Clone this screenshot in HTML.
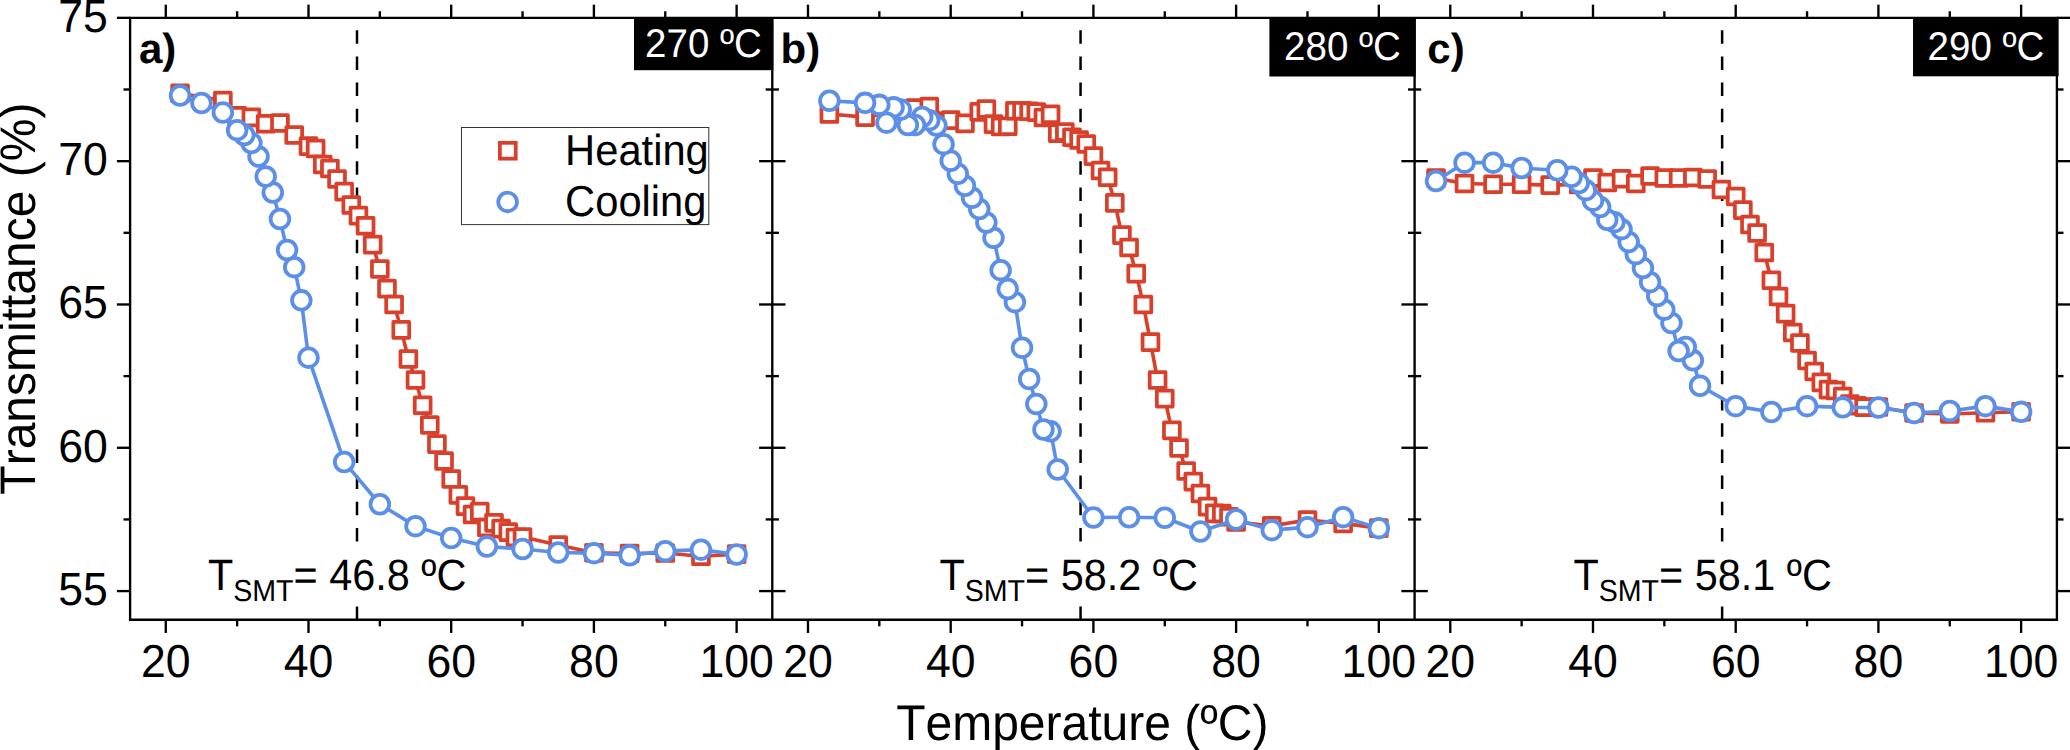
<!DOCTYPE html>
<html lang="en"><head><meta charset="utf-8"><title>Transmittance vs temperature</title>
<style>html,body{margin:0;padding:0;background:#fff;overflow:hidden}svg{display:block}</style></head>
<body>
<svg width="2070" height="750" viewBox="0 0 2070 750" font-family="'Liberation Sans', sans-serif" fill="#000" style="font-kerning:none;text-rendering:geometricPrecision">
<rect x="0" y="0" width="2070" height="750" fill="#fff"/>
<g class="panel0">
<line x1="357.01" y1="30.2" x2="357.01" y2="619.75" stroke="#000" stroke-width="2.5" stroke-dasharray="13.5 12.7"/>
<polyline points="180.05,93.35 222.86,100.55 237.13,115.75 251.4,117.35 265.68,123.75 279.95,122.95 294.22,134.95 308.49,146.15 315.62,148.55 322.76,164.55 329.9,168.55 337.03,178.95 344.17,191.65 351.3,204.95 358.44,215.65 365.57,225.75 372.71,244.65 379.84,268.95 386.98,288.65 394.12,304.55 401.25,329.85 408.39,358.95 415.52,379.95 422.66,405.25 429.79,424.95 436.93,444.15 444.06,460.95 451.2,478.95 458.34,494.85 465.47,506.15 472.61,514.55 479.74,511.65 486.88,527.45 494.01,522.85 501.15,528.65 508.28,532.15 515.42,537.45 522.56,537.05 558.23,544.95 593.91,552.75 629.59,553.55 665.27,553.05 700.94,556.25 736.62,554.15" fill="none" stroke="#d9402b" stroke-width="3.6" stroke-linejoin="round"/>
<g fill="#fff" stroke="#d9402b" stroke-width="3.75" stroke-linejoin="round">
<rect x="172.12" y="85.43" width="15.85" height="15.85"/>
<rect x="214.94" y="92.63" width="15.85" height="15.85"/>
<rect x="229.21" y="107.83" width="15.85" height="15.85"/>
<rect x="243.48" y="109.43" width="15.85" height="15.85"/>
<rect x="257.75" y="115.83" width="15.85" height="15.85"/>
<rect x="272.02" y="115.03" width="15.85" height="15.85"/>
<rect x="286.29" y="127.03" width="15.85" height="15.85"/>
<rect x="300.56" y="138.22" width="15.85" height="15.85"/>
<rect x="307.7" y="140.62" width="15.85" height="15.85"/>
<rect x="314.83" y="156.62" width="15.85" height="15.85"/>
<rect x="321.97" y="160.62" width="15.85" height="15.85"/>
<rect x="329.11" y="171.03" width="15.85" height="15.85"/>
<rect x="336.24" y="183.72" width="15.85" height="15.85"/>
<rect x="343.38" y="197.03" width="15.85" height="15.85"/>
<rect x="350.51" y="207.72" width="15.85" height="15.85"/>
<rect x="357.65" y="217.82" width="15.85" height="15.85"/>
<rect x="364.78" y="236.72" width="15.85" height="15.85"/>
<rect x="371.92" y="261.02" width="15.85" height="15.85"/>
<rect x="379.06" y="280.72" width="15.85" height="15.85"/>
<rect x="386.19" y="296.62" width="15.85" height="15.85"/>
<rect x="393.33" y="321.92" width="15.85" height="15.85"/>
<rect x="400.46" y="351.02" width="15.85" height="15.85"/>
<rect x="407.6" y="372.02" width="15.85" height="15.85"/>
<rect x="414.73" y="397.32" width="15.85" height="15.85"/>
<rect x="421.87" y="417.02" width="15.85" height="15.85"/>
<rect x="429" y="436.22" width="15.85" height="15.85"/>
<rect x="436.14" y="453.02" width="15.85" height="15.85"/>
<rect x="443.28" y="471.02" width="15.85" height="15.85"/>
<rect x="450.41" y="486.92" width="15.85" height="15.85"/>
<rect x="457.55" y="498.22" width="15.85" height="15.85"/>
<rect x="464.68" y="506.62" width="15.85" height="15.85"/>
<rect x="471.82" y="503.72" width="15.85" height="15.85"/>
<rect x="478.95" y="519.52" width="15.85" height="15.85"/>
<rect x="486.09" y="514.93" width="15.85" height="15.85"/>
<rect x="493.22" y="520.73" width="15.85" height="15.85"/>
<rect x="500.36" y="524.23" width="15.85" height="15.85"/>
<rect x="507.5" y="529.52" width="15.85" height="15.85"/>
<rect x="514.63" y="529.12" width="15.85" height="15.85"/>
<rect x="550.31" y="537.02" width="15.85" height="15.85"/>
<rect x="585.99" y="544.83" width="15.85" height="15.85"/>
<rect x="621.66" y="545.62" width="15.85" height="15.85"/>
<rect x="657.34" y="545.12" width="15.85" height="15.85"/>
<rect x="693.02" y="548.33" width="15.85" height="15.85"/>
<rect x="728.7" y="546.23" width="15.85" height="15.85"/>
</g>
<polyline points="736.62,554.45 700.94,549.65 665.27,551.15 629.59,555.25 593.91,553.15 558.23,552.45 522.56,549.05 486.88,546.55 451.2,538.05 415.52,526.15 379.84,504.25 344.17,461.95 308.49,357.65 301.35,300.35 294.22,267.15 287.08,250.05 279.95,219.05 272.81,192.45 265.68,176.55 258.54,156.55 251.4,142.95 244.27,134.95 237.13,130.15 222.86,112.55 201.46,102.95 180.05,95.45" fill="none" stroke="#5b8fe8" stroke-width="3.6" stroke-linejoin="round"/>
<g fill="#fff" stroke="#5b8fe8" stroke-width="3.8">
<circle cx="736.62" cy="554.45" r="9.35"/>
<circle cx="700.94" cy="549.65" r="9.35"/>
<circle cx="665.27" cy="551.15" r="9.35"/>
<circle cx="629.59" cy="555.25" r="9.35"/>
<circle cx="593.91" cy="553.15" r="9.35"/>
<circle cx="558.23" cy="552.45" r="9.35"/>
<circle cx="522.56" cy="549.05" r="9.35"/>
<circle cx="486.88" cy="546.55" r="9.35"/>
<circle cx="451.2" cy="538.05" r="9.35"/>
<circle cx="415.52" cy="526.15" r="9.35"/>
<circle cx="379.84" cy="504.25" r="9.35"/>
<circle cx="344.17" cy="461.95" r="9.35"/>
<circle cx="308.49" cy="357.65" r="9.35"/>
<circle cx="301.35" cy="300.35" r="9.35"/>
<circle cx="294.22" cy="267.15" r="9.35"/>
<circle cx="287.08" cy="250.05" r="9.35"/>
<circle cx="279.95" cy="219.05" r="9.35"/>
<circle cx="272.81" cy="192.45" r="9.35"/>
<circle cx="265.68" cy="176.55" r="9.35"/>
<circle cx="258.54" cy="156.55" r="9.35"/>
<circle cx="251.4" cy="142.95" r="9.35"/>
<circle cx="244.27" cy="134.95" r="9.35"/>
<circle cx="237.13" cy="130.15" r="9.35"/>
<circle cx="222.86" cy="112.55" r="9.35"/>
<circle cx="201.46" cy="102.95" r="9.35"/>
<circle cx="180.05" cy="95.45" r="9.35"/>
</g>
</g>
<g class="panel1">
<line x1="1080.56" y1="30.2" x2="1080.56" y2="619.75" stroke="#000" stroke-width="2.5" stroke-dasharray="13.5 12.7"/>
<polyline points="829.38,114.05 865.06,117.15 915.01,108.05 929.28,106.45 950.69,120.15 964.96,123.35 979.23,111.85 986.37,108.95 993.5,124.15 1000.64,126.55 1007.77,126.25 1014.91,110.75 1022.04,110.75 1029.18,111.25 1036.32,112.15 1043.45,117.45 1050.59,114.25 1057.72,133.15 1064.86,132.05 1071.99,137.25 1079.13,140.05 1086.26,143.95 1093.4,156.15 1100.54,170.55 1107.67,177.25 1114.81,202.85 1121.94,235.15 1129.08,247.45 1136.21,273.65 1143.35,304.55 1150.48,342.15 1157.62,380.05 1164.76,398.65 1171.89,430.35 1179.03,447.95 1186.16,471.05 1193.3,481.65 1200.43,493.55 1207.57,506.65 1214.7,513.35 1221.84,513.55 1228.98,516.75 1236.11,522.05 1271.79,525.85 1307.47,520.05 1343.14,523.35 1378.82,528.15" fill="none" stroke="#d9402b" stroke-width="3.6" stroke-linejoin="round"/>
<g fill="#fff" stroke="#d9402b" stroke-width="3.75" stroke-linejoin="round">
<rect x="821.46" y="106.13" width="15.85" height="15.85"/>
<rect x="857.14" y="109.23" width="15.85" height="15.85"/>
<rect x="907.09" y="100.13" width="15.85" height="15.85"/>
<rect x="921.36" y="98.53" width="15.85" height="15.85"/>
<rect x="942.76" y="112.23" width="15.85" height="15.85"/>
<rect x="957.04" y="115.43" width="15.85" height="15.85"/>
<rect x="971.31" y="103.93" width="15.85" height="15.85"/>
<rect x="978.44" y="101.03" width="15.85" height="15.85"/>
<rect x="985.58" y="116.23" width="15.85" height="15.85"/>
<rect x="992.71" y="118.63" width="15.85" height="15.85"/>
<rect x="999.85" y="118.33" width="15.85" height="15.85"/>
<rect x="1006.98" y="102.83" width="15.85" height="15.85"/>
<rect x="1014.12" y="102.83" width="15.85" height="15.85"/>
<rect x="1021.26" y="103.33" width="15.85" height="15.85"/>
<rect x="1028.39" y="104.23" width="15.85" height="15.85"/>
<rect x="1035.53" y="109.53" width="15.85" height="15.85"/>
<rect x="1042.66" y="106.33" width="15.85" height="15.85"/>
<rect x="1049.8" y="125.23" width="15.85" height="15.85"/>
<rect x="1056.93" y="124.13" width="15.85" height="15.85"/>
<rect x="1064.07" y="129.32" width="15.85" height="15.85"/>
<rect x="1071.2" y="132.12" width="15.85" height="15.85"/>
<rect x="1078.34" y="136.03" width="15.85" height="15.85"/>
<rect x="1085.48" y="148.22" width="15.85" height="15.85"/>
<rect x="1092.61" y="162.62" width="15.85" height="15.85"/>
<rect x="1099.75" y="169.32" width="15.85" height="15.85"/>
<rect x="1106.88" y="194.92" width="15.85" height="15.85"/>
<rect x="1114.02" y="227.22" width="15.85" height="15.85"/>
<rect x="1121.15" y="239.53" width="15.85" height="15.85"/>
<rect x="1128.29" y="265.72" width="15.85" height="15.85"/>
<rect x="1135.42" y="296.62" width="15.85" height="15.85"/>
<rect x="1142.56" y="334.22" width="15.85" height="15.85"/>
<rect x="1149.69" y="372.12" width="15.85" height="15.85"/>
<rect x="1156.83" y="390.72" width="15.85" height="15.85"/>
<rect x="1163.97" y="422.42" width="15.85" height="15.85"/>
<rect x="1171.1" y="440.02" width="15.85" height="15.85"/>
<rect x="1178.24" y="463.12" width="15.85" height="15.85"/>
<rect x="1185.37" y="473.72" width="15.85" height="15.85"/>
<rect x="1192.51" y="485.62" width="15.85" height="15.85"/>
<rect x="1199.64" y="498.72" width="15.85" height="15.85"/>
<rect x="1206.78" y="505.43" width="15.85" height="15.85"/>
<rect x="1213.91" y="505.62" width="15.85" height="15.85"/>
<rect x="1221.05" y="508.82" width="15.85" height="15.85"/>
<rect x="1228.19" y="514.12" width="15.85" height="15.85"/>
<rect x="1263.86" y="517.93" width="15.85" height="15.85"/>
<rect x="1299.54" y="512.12" width="15.85" height="15.85"/>
<rect x="1335.22" y="515.43" width="15.85" height="15.85"/>
<rect x="1370.9" y="520.23" width="15.85" height="15.85"/>
</g>
<polyline points="1378.82,528.15 1343.14,517.15 1307.47,527.15 1271.79,530.15 1236.11,519.45 1200.43,531.45 1164.76,517.75 1129.08,517.25 1093.4,517.45 1057.72,469.45 1050.59,431.35 1043.45,429.45 1036.32,404.05 1029.18,378.95 1022.04,347.75 1014.91,302.15 1007.77,289.05 1000.64,270.15 993.5,237.85 986.37,222.55 979.23,208.95 972.1,197.75 964.96,185.75 957.82,173.75 950.69,160.75 943.55,144.15 936.42,125.45 929.28,120.15 922.15,116.95 915.01,124.95 907.88,124.95 900.74,109.45 893.6,107.35 886.47,122.65 879.33,104.85 865.06,102.85 829.38,100.75" fill="none" stroke="#5b8fe8" stroke-width="3.6" stroke-linejoin="round"/>
<g fill="#fff" stroke="#5b8fe8" stroke-width="3.8">
<circle cx="1378.82" cy="528.15" r="9.35"/>
<circle cx="1343.14" cy="517.15" r="9.35"/>
<circle cx="1307.47" cy="527.15" r="9.35"/>
<circle cx="1271.79" cy="530.15" r="9.35"/>
<circle cx="1236.11" cy="519.45" r="9.35"/>
<circle cx="1200.43" cy="531.45" r="9.35"/>
<circle cx="1164.76" cy="517.75" r="9.35"/>
<circle cx="1129.08" cy="517.25" r="9.35"/>
<circle cx="1093.4" cy="517.45" r="9.35"/>
<circle cx="1057.72" cy="469.45" r="9.35"/>
<circle cx="1050.59" cy="431.35" r="9.35"/>
<circle cx="1043.45" cy="429.45" r="9.35"/>
<circle cx="1036.32" cy="404.05" r="9.35"/>
<circle cx="1029.18" cy="378.95" r="9.35"/>
<circle cx="1022.04" cy="347.75" r="9.35"/>
<circle cx="1014.91" cy="302.15" r="9.35"/>
<circle cx="1007.77" cy="289.05" r="9.35"/>
<circle cx="1000.64" cy="270.15" r="9.35"/>
<circle cx="993.5" cy="237.85" r="9.35"/>
<circle cx="986.37" cy="222.55" r="9.35"/>
<circle cx="979.23" cy="208.95" r="9.35"/>
<circle cx="972.1" cy="197.75" r="9.35"/>
<circle cx="964.96" cy="185.75" r="9.35"/>
<circle cx="957.82" cy="173.75" r="9.35"/>
<circle cx="950.69" cy="160.75" r="9.35"/>
<circle cx="943.55" cy="144.15" r="9.35"/>
<circle cx="936.42" cy="125.45" r="9.35"/>
<circle cx="929.28" cy="120.15" r="9.35"/>
<circle cx="922.15" cy="116.95" r="9.35"/>
<circle cx="915.01" cy="124.95" r="9.35"/>
<circle cx="907.88" cy="124.95" r="9.35"/>
<circle cx="900.74" cy="109.45" r="9.35"/>
<circle cx="893.6" cy="107.35" r="9.35"/>
<circle cx="886.47" cy="122.65" r="9.35"/>
<circle cx="879.33" cy="104.85" r="9.35"/>
<circle cx="865.06" cy="102.85" r="9.35"/>
<circle cx="829.38" cy="100.75" r="9.35"/>
</g>
</g>
<g class="panel2">
<line x1="1722.14" y1="30.2" x2="1722.14" y2="619.75" stroke="#000" stroke-width="2.5" stroke-dasharray="13.5 12.7"/>
<polyline points="1436.01,178.15 1464.55,183.45 1493.09,184.25 1521.63,184.25 1550.18,185.15 1578.72,184.45 1592.99,178.05 1607.26,182.45 1621.53,178.75 1635.8,183.55 1650.07,176.05 1664.34,178.05 1678.62,178.05 1692.89,177.45 1707.16,178.95 1721.43,189.55 1735.7,196.55 1742.84,210.15 1749.97,224.55 1757.11,233.05 1764.24,252.55 1771.38,280.25 1778.51,296.55 1785.65,313.65 1792.78,332.55 1799.92,342.95 1807.06,360.45 1814.19,371.45 1821.33,382.35 1828.46,389.65 1835.6,390.55 1842.73,396.45 1849.87,404.15 1857,405.75 1864.14,407.15 1878.41,407.05 1914.09,412.95 1949.77,413.95 1985.44,412.75 2021.12,411.75" fill="none" stroke="#d9402b" stroke-width="3.6" stroke-linejoin="round"/>
<g fill="#fff" stroke="#d9402b" stroke-width="3.75" stroke-linejoin="round">
<rect x="1428.08" y="170.22" width="15.85" height="15.85"/>
<rect x="1456.62" y="175.53" width="15.85" height="15.85"/>
<rect x="1485.17" y="176.32" width="15.85" height="15.85"/>
<rect x="1513.71" y="176.32" width="15.85" height="15.85"/>
<rect x="1542.25" y="177.22" width="15.85" height="15.85"/>
<rect x="1570.79" y="176.53" width="15.85" height="15.85"/>
<rect x="1585.06" y="170.12" width="15.85" height="15.85"/>
<rect x="1599.34" y="174.53" width="15.85" height="15.85"/>
<rect x="1613.61" y="170.82" width="15.85" height="15.85"/>
<rect x="1627.88" y="175.62" width="15.85" height="15.85"/>
<rect x="1642.15" y="168.12" width="15.85" height="15.85"/>
<rect x="1656.42" y="170.12" width="15.85" height="15.85"/>
<rect x="1670.69" y="170.12" width="15.85" height="15.85"/>
<rect x="1684.96" y="169.53" width="15.85" height="15.85"/>
<rect x="1699.23" y="171.03" width="15.85" height="15.85"/>
<rect x="1713.5" y="181.62" width="15.85" height="15.85"/>
<rect x="1727.77" y="188.62" width="15.85" height="15.85"/>
<rect x="1734.91" y="202.22" width="15.85" height="15.85"/>
<rect x="1742.05" y="216.62" width="15.85" height="15.85"/>
<rect x="1749.18" y="225.12" width="15.85" height="15.85"/>
<rect x="1756.32" y="244.62" width="15.85" height="15.85"/>
<rect x="1763.45" y="272.32" width="15.85" height="15.85"/>
<rect x="1770.59" y="288.62" width="15.85" height="15.85"/>
<rect x="1777.72" y="305.72" width="15.85" height="15.85"/>
<rect x="1784.86" y="324.62" width="15.85" height="15.85"/>
<rect x="1792" y="335.02" width="15.85" height="15.85"/>
<rect x="1799.13" y="352.52" width="15.85" height="15.85"/>
<rect x="1806.27" y="363.52" width="15.85" height="15.85"/>
<rect x="1813.4" y="374.42" width="15.85" height="15.85"/>
<rect x="1820.54" y="381.72" width="15.85" height="15.85"/>
<rect x="1827.67" y="382.62" width="15.85" height="15.85"/>
<rect x="1834.81" y="388.52" width="15.85" height="15.85"/>
<rect x="1841.94" y="396.22" width="15.85" height="15.85"/>
<rect x="1849.08" y="397.82" width="15.85" height="15.85"/>
<rect x="1856.21" y="399.22" width="15.85" height="15.85"/>
<rect x="1870.49" y="399.12" width="15.85" height="15.85"/>
<rect x="1906.16" y="405.02" width="15.85" height="15.85"/>
<rect x="1941.84" y="406.02" width="15.85" height="15.85"/>
<rect x="1977.52" y="404.82" width="15.85" height="15.85"/>
<rect x="2013.2" y="403.82" width="15.85" height="15.85"/>
</g>
<polyline points="2021.12,411.85 1985.44,406.15 1949.77,411.05 1914.09,412.95 1878.41,407.45 1842.73,407.35 1807.06,406.15 1771.38,412.05 1735.7,406.15 1700.02,385.75 1692.89,360.35 1685.75,346.95 1678.62,350.95 1671.48,322.95 1664.34,309.65 1657.21,296.05 1650.07,282.15 1642.94,268.05 1635.8,254.15 1628.67,241.95 1621.53,229.15 1614.4,222.15 1607.26,219.75 1600.12,206.95 1592.99,200.65 1585.85,190.15 1578.72,182.95 1571.58,176.75 1557.31,170.25 1521.63,168.05 1493.09,162.65 1464.55,162.65 1436.01,181.05" fill="none" stroke="#5b8fe8" stroke-width="3.6" stroke-linejoin="round"/>
<g fill="#fff" stroke="#5b8fe8" stroke-width="3.8">
<circle cx="2021.12" cy="411.85" r="9.35"/>
<circle cx="1985.44" cy="406.15" r="9.35"/>
<circle cx="1949.77" cy="411.05" r="9.35"/>
<circle cx="1914.09" cy="412.95" r="9.35"/>
<circle cx="1878.41" cy="407.45" r="9.35"/>
<circle cx="1842.73" cy="407.35" r="9.35"/>
<circle cx="1807.06" cy="406.15" r="9.35"/>
<circle cx="1771.38" cy="412.05" r="9.35"/>
<circle cx="1735.7" cy="406.15" r="9.35"/>
<circle cx="1700.02" cy="385.75" r="9.35"/>
<circle cx="1692.89" cy="360.35" r="9.35"/>
<circle cx="1685.75" cy="346.95" r="9.35"/>
<circle cx="1678.62" cy="350.95" r="9.35"/>
<circle cx="1671.48" cy="322.95" r="9.35"/>
<circle cx="1664.34" cy="309.65" r="9.35"/>
<circle cx="1657.21" cy="296.05" r="9.35"/>
<circle cx="1650.07" cy="282.15" r="9.35"/>
<circle cx="1642.94" cy="268.05" r="9.35"/>
<circle cx="1635.8" cy="254.15" r="9.35"/>
<circle cx="1628.67" cy="241.95" r="9.35"/>
<circle cx="1621.53" cy="229.15" r="9.35"/>
<circle cx="1614.4" cy="222.15" r="9.35"/>
<circle cx="1607.26" cy="219.75" r="9.35"/>
<circle cx="1600.12" cy="206.95" r="9.35"/>
<circle cx="1592.99" cy="200.65" r="9.35"/>
<circle cx="1585.85" cy="190.15" r="9.35"/>
<circle cx="1578.72" cy="182.95" r="9.35"/>
<circle cx="1571.58" cy="176.75" r="9.35"/>
<circle cx="1557.31" cy="170.25" r="9.35"/>
<circle cx="1521.63" cy="168.05" r="9.35"/>
<circle cx="1493.09" cy="162.65" r="9.35"/>
<circle cx="1464.55" cy="162.65" r="9.35"/>
<circle cx="1436.01" cy="181.05" r="9.35"/>
</g>
</g>
<rect x="353.01" y="546" width="8" height="56" fill="#fff"/>
<text transform="translate(207.9 589.8) scale(1 1.06)" font-size="41.4" text-anchor="start">T<tspan font-size="28.6" dy="10.4">SMT</tspan><tspan dy="-10.4">= 46.8 ºC</tspan></text>
<rect x="1076.56" y="546" width="8" height="56" fill="#fff"/>
<text transform="translate(939.4 589.8) scale(1 1.06)" font-size="41.4" text-anchor="start">T<tspan font-size="28.6" dy="10.4">SMT</tspan><tspan dy="-10.4">= 58.2 ºC</tspan></text>
<rect x="1718.14" y="546" width="8" height="56" fill="#fff"/>
<text transform="translate(1573.4 589.8) scale(1 1.06)" font-size="41.4" text-anchor="start">T<tspan font-size="28.6" dy="10.4">SMT</tspan><tspan dy="-10.4">= 58.1 ºC</tspan></text>
<rect x="634" y="17.85" width="139.3" height="52.35" fill="#000"/>
<text transform="translate(703.5 56.8) scale(1 1.04)" font-size="38.5" text-anchor="middle" fill="#fff">270 ºC</text>
<rect x="1269.4" y="17.85" width="146.3" height="58.65" fill="#000"/>
<text transform="translate(1342.5 60.2) scale(1 1.04)" font-size="38.5" text-anchor="middle" fill="#fff">280 ºC</text>
<rect x="1913" y="17.85" width="145.6" height="58.45" fill="#000"/>
<text transform="translate(1986 60.2) scale(1 1.04)" font-size="38.5" text-anchor="middle" fill="#fff">290 ºC</text>
<text transform="translate(139 62.9)" font-size="42" text-anchor="start" font-weight="bold">a)</text>
<text transform="translate(780.5 62.9)" font-size="42" text-anchor="start" font-weight="bold">b)</text>
<text transform="translate(1427.3 62.9)" font-size="42" text-anchor="start" font-weight="bold">c)</text>
<rect x="461.5" y="127.5" width="247.3" height="97.1" fill="#fff" stroke="#333" stroke-width="1"/>
<rect x="499.88" y="142.82" width="15.85" height="15.85" fill="#fff" stroke="#d9402b" stroke-width="3.75"/>
<circle cx="507.6" cy="201.9" r="9.35" fill="#fff" stroke="#5b8fe8" stroke-width="3.8"/>
<text transform="translate(565.1 164.9) scale(1 1.04)" font-size="41.7" text-anchor="start">Heating</text>
<text transform="translate(565.1 215.8) scale(1 1.04)" font-size="41.7" text-anchor="start">Cooling</text>
<g stroke="#000" stroke-width="2.35" fill="none" stroke-linecap="butt">
<line x1="128.92" y1="17.85" x2="2058.08" y2="17.85"/>
<line x1="128.92" y1="619.75" x2="2058.08" y2="619.75"/>
<line x1="130.1" y1="17.85" x2="130.1" y2="619.75"/>
<line x1="772.3" y1="17.85" x2="772.3" y2="619.75"/>
<line x1="1414.6" y1="17.85" x2="1414.6" y2="619.75"/>
<line x1="2056.9" y1="17.85" x2="2056.9" y2="619.75"/>
<line x1="165.78" y1="4.65" x2="165.78" y2="17.85"/>
<line x1="165.78" y1="619.75" x2="165.78" y2="632.95"/>
<line x1="237.13" y1="11.25" x2="237.13" y2="17.85"/>
<line x1="237.13" y1="619.75" x2="237.13" y2="626.35"/>
<line x1="308.49" y1="4.65" x2="308.49" y2="17.85"/>
<line x1="308.49" y1="619.75" x2="308.49" y2="632.95"/>
<line x1="379.84" y1="11.25" x2="379.84" y2="17.85"/>
<line x1="379.84" y1="619.75" x2="379.84" y2="626.35"/>
<line x1="451.2" y1="4.65" x2="451.2" y2="17.85"/>
<line x1="451.2" y1="619.75" x2="451.2" y2="632.95"/>
<line x1="522.56" y1="11.25" x2="522.56" y2="17.85"/>
<line x1="522.56" y1="619.75" x2="522.56" y2="626.35"/>
<line x1="593.91" y1="4.65" x2="593.91" y2="17.85"/>
<line x1="593.91" y1="619.75" x2="593.91" y2="632.95"/>
<line x1="665.27" y1="11.25" x2="665.27" y2="17.85"/>
<line x1="665.27" y1="619.75" x2="665.27" y2="626.35"/>
<line x1="736.62" y1="4.65" x2="736.62" y2="17.85"/>
<line x1="736.62" y1="619.75" x2="736.62" y2="632.95"/>
<line x1="807.98" y1="4.65" x2="807.98" y2="17.85"/>
<line x1="807.98" y1="619.75" x2="807.98" y2="632.95"/>
<line x1="879.33" y1="11.25" x2="879.33" y2="17.85"/>
<line x1="879.33" y1="619.75" x2="879.33" y2="626.35"/>
<line x1="950.69" y1="4.65" x2="950.69" y2="17.85"/>
<line x1="950.69" y1="619.75" x2="950.69" y2="632.95"/>
<line x1="1022.04" y1="11.25" x2="1022.04" y2="17.85"/>
<line x1="1022.04" y1="619.75" x2="1022.04" y2="626.35"/>
<line x1="1093.4" y1="4.65" x2="1093.4" y2="17.85"/>
<line x1="1093.4" y1="619.75" x2="1093.4" y2="632.95"/>
<line x1="1164.76" y1="11.25" x2="1164.76" y2="17.85"/>
<line x1="1164.76" y1="619.75" x2="1164.76" y2="626.35"/>
<line x1="1236.11" y1="4.65" x2="1236.11" y2="17.85"/>
<line x1="1236.11" y1="619.75" x2="1236.11" y2="632.95"/>
<line x1="1307.47" y1="11.25" x2="1307.47" y2="17.85"/>
<line x1="1307.47" y1="619.75" x2="1307.47" y2="626.35"/>
<line x1="1378.82" y1="4.65" x2="1378.82" y2="17.85"/>
<line x1="1378.82" y1="619.75" x2="1378.82" y2="632.95"/>
<line x1="1450.28" y1="4.65" x2="1450.28" y2="17.85"/>
<line x1="1450.28" y1="619.75" x2="1450.28" y2="632.95"/>
<line x1="1521.63" y1="11.25" x2="1521.63" y2="17.85"/>
<line x1="1521.63" y1="619.75" x2="1521.63" y2="626.35"/>
<line x1="1592.99" y1="4.65" x2="1592.99" y2="17.85"/>
<line x1="1592.99" y1="619.75" x2="1592.99" y2="632.95"/>
<line x1="1664.34" y1="11.25" x2="1664.34" y2="17.85"/>
<line x1="1664.34" y1="619.75" x2="1664.34" y2="626.35"/>
<line x1="1735.7" y1="4.65" x2="1735.7" y2="17.85"/>
<line x1="1735.7" y1="619.75" x2="1735.7" y2="632.95"/>
<line x1="1807.06" y1="11.25" x2="1807.06" y2="17.85"/>
<line x1="1807.06" y1="619.75" x2="1807.06" y2="626.35"/>
<line x1="1878.41" y1="4.65" x2="1878.41" y2="17.85"/>
<line x1="1878.41" y1="619.75" x2="1878.41" y2="632.95"/>
<line x1="1949.77" y1="11.25" x2="1949.77" y2="17.85"/>
<line x1="1949.77" y1="619.75" x2="1949.77" y2="626.35"/>
<line x1="2021.12" y1="4.65" x2="2021.12" y2="17.85"/>
<line x1="2021.12" y1="619.75" x2="2021.12" y2="632.95"/>
<line x1="116.9" y1="591.09" x2="130.1" y2="591.09"/>
<line x1="2056.9" y1="591.09" x2="2070.1" y2="591.09"/>
<line x1="759.1" y1="591.09" x2="785.5" y2="591.09"/>
<line x1="1401.4" y1="591.09" x2="1427.8" y2="591.09"/>
<line x1="123.5" y1="519.43" x2="130.1" y2="519.43"/>
<line x1="2056.9" y1="519.43" x2="2063.5" y2="519.43"/>
<line x1="765.7" y1="519.43" x2="778.9" y2="519.43"/>
<line x1="1408" y1="519.43" x2="1421.2" y2="519.43"/>
<line x1="116.9" y1="447.78" x2="130.1" y2="447.78"/>
<line x1="2056.9" y1="447.78" x2="2070.1" y2="447.78"/>
<line x1="759.1" y1="447.78" x2="785.5" y2="447.78"/>
<line x1="1401.4" y1="447.78" x2="1427.8" y2="447.78"/>
<line x1="123.5" y1="376.12" x2="130.1" y2="376.12"/>
<line x1="2056.9" y1="376.12" x2="2063.5" y2="376.12"/>
<line x1="765.7" y1="376.12" x2="778.9" y2="376.12"/>
<line x1="1408" y1="376.12" x2="1421.2" y2="376.12"/>
<line x1="116.9" y1="304.47" x2="130.1" y2="304.47"/>
<line x1="2056.9" y1="304.47" x2="2070.1" y2="304.47"/>
<line x1="759.1" y1="304.47" x2="785.5" y2="304.47"/>
<line x1="1401.4" y1="304.47" x2="1427.8" y2="304.47"/>
<line x1="123.5" y1="232.81" x2="130.1" y2="232.81"/>
<line x1="2056.9" y1="232.81" x2="2063.5" y2="232.81"/>
<line x1="765.7" y1="232.81" x2="778.9" y2="232.81"/>
<line x1="1408" y1="232.81" x2="1421.2" y2="232.81"/>
<line x1="116.9" y1="161.16" x2="130.1" y2="161.16"/>
<line x1="2056.9" y1="161.16" x2="2070.1" y2="161.16"/>
<line x1="759.1" y1="161.16" x2="785.5" y2="161.16"/>
<line x1="1401.4" y1="161.16" x2="1427.8" y2="161.16"/>
<line x1="123.5" y1="89.5" x2="130.1" y2="89.5"/>
<line x1="2056.9" y1="89.5" x2="2063.5" y2="89.5"/>
<line x1="765.7" y1="89.5" x2="778.9" y2="89.5"/>
<line x1="1408" y1="89.5" x2="1421.2" y2="89.5"/>
<line x1="116.9" y1="17.85" x2="130.1" y2="17.85"/>
<line x1="2056.9" y1="17.85" x2="2070.1" y2="17.85"/>
</g>
<text transform="translate(165.78 677.3) scale(1 1.04)" font-size="44.6" text-anchor="middle">20</text>
<text transform="translate(308.49 677.3) scale(1 1.04)" font-size="44.6" text-anchor="middle">40</text>
<text transform="translate(451.2 677.3) scale(1 1.04)" font-size="44.6" text-anchor="middle">60</text>
<text transform="translate(593.91 677.3) scale(1 1.04)" font-size="44.6" text-anchor="middle">80</text>
<text transform="translate(736.62 677.3) scale(1 1.04)" font-size="44.6" text-anchor="middle">100</text>
<text transform="translate(807.98 677.3) scale(1 1.04)" font-size="44.6" text-anchor="middle">20</text>
<text transform="translate(950.69 677.3) scale(1 1.04)" font-size="44.6" text-anchor="middle">40</text>
<text transform="translate(1093.4 677.3) scale(1 1.04)" font-size="44.6" text-anchor="middle">60</text>
<text transform="translate(1236.11 677.3) scale(1 1.04)" font-size="44.6" text-anchor="middle">80</text>
<text transform="translate(1378.82 677.3) scale(1 1.04)" font-size="44.6" text-anchor="middle">100</text>
<text transform="translate(1450.28 677.3) scale(1 1.04)" font-size="44.6" text-anchor="middle">20</text>
<text transform="translate(1592.99 677.3) scale(1 1.04)" font-size="44.6" text-anchor="middle">40</text>
<text transform="translate(1735.7 677.3) scale(1 1.04)" font-size="44.6" text-anchor="middle">60</text>
<text transform="translate(1878.41 677.3) scale(1 1.04)" font-size="44.6" text-anchor="middle">80</text>
<text transform="translate(2021.12 677.3) scale(1 1.04)" font-size="44.6" text-anchor="middle">100</text>
<text transform="translate(107.8 604.99) scale(1 1.04)" font-size="44.6" text-anchor="end">55</text>
<text transform="translate(107.8 461.68) scale(1 1.04)" font-size="44.6" text-anchor="end">60</text>
<text transform="translate(107.8 318.37) scale(1 1.04)" font-size="44.6" text-anchor="end">65</text>
<text transform="translate(107.8 175.06) scale(1 1.04)" font-size="44.6" text-anchor="end">70</text>
<text transform="translate(107.8 31.75) scale(1 1.04)" font-size="44.6" text-anchor="end">75</text>
<text transform="translate(1082.3 740) scale(1 1.045)" font-size="48.0" text-anchor="middle">Temperature (ºC)</text>
<text transform="translate(35 298.6) rotate(-90) scale(1 1.04)" font-size="48.0" text-anchor="middle">Transmittance (%)</text>
</svg>
</body></html>
